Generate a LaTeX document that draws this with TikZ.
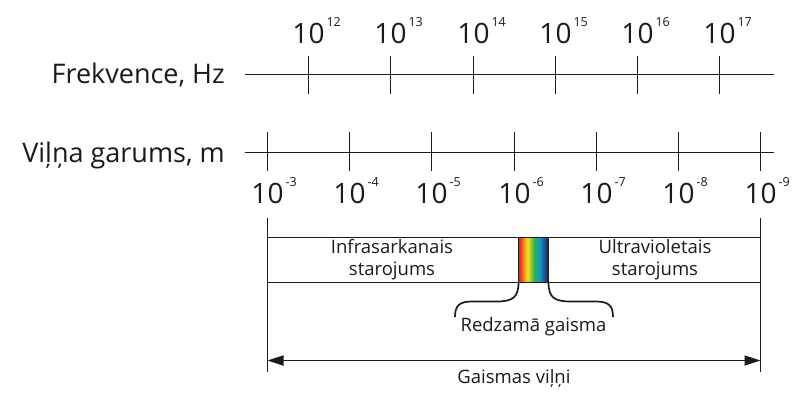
\documentclass[tikz,border=0pt]{standalone}
\usepackage{fontspec}
\setmainfont{Open Sans}
\usetikzlibrary{arrows.meta}
\definecolor{ink}{HTML}{1A1A1A}
\definecolor{spA}{HTML}{E41E26}
\definecolor{spB}{HTML}{EE4123}
\definecolor{spC}{HTML}{F5821F}
\definecolor{spD}{HTML}{F8C31A}
\definecolor{spE}{HTML}{E9E31E}
\definecolor{spF}{HTML}{8CC63F}
\definecolor{spG}{HTML}{3AB14A}
\definecolor{spH}{HTML}{1BA59A}
\definecolor{spI}{HTML}{1A90C8}
\definecolor{spJ}{HTML}{1C5E9A}
\definecolor{spK}{HTML}{1B2746}
\pgfdeclarehorizontalshading{spectrum}{100bp}{color(0bp)=(spA); color(25bp)=(spA); color(29bp)=(spB); color(33bp)=(spC); color(37bp)=(spD); color(41bp)=(spE); color(46bp)=(spF); color(51bp)=(spG); color(56bp)=(spH); color(61bp)=(spI); color(67bp)=(spJ); color(74bp)=(spK); color(100bp)=(spK)}
\newcommand{\tenexp}[1]{10\rlap{\hspace{2bp}\raisebox{17bp}{\fontsize{12.5bp}{13bp}\selectfont #1}}}
\tikzset{
  axisline/.style={draw=ink, line width=1.7bp},
  axislabel/.style={anchor=base east, inner sep=0pt, font=\fontsize{27bp}{32bp}\selectfont, text=ink},
  ticklabel/.style={anchor=base, inner sep=0pt, font=\fontsize{28bp}{32bp}\selectfont, text=ink},
  boxtext/.style={align=center, inner sep=0pt, font=\fontsize{18.5bp}{22bp}\selectfont, text=ink},
  plaintext/.style={anchor=base, inner sep=0pt, font=\fontsize{18.5bp}{22bp}\selectfont, text=ink}
}
\begin{document}
\begin{tikzpicture}[x=1bp, y=-1bp]
\useasboundingbox (0,0) rectangle (800,400);
% frequency axis
\node[axislabel] (flab) at (225,83) {Frekvence, Hz};
\coordinate (fa) at (245,74.5);
\coordinate (fb) at (774,74.5);
\draw[axisline] (fa) -- (fb);
\foreach \x/\e [count=\i] in {308.5/12,390.5/13,473.5/14,555.5/15,637.5/16,719.5/17}{
  \coordinate (ft\i a) at (\x,56);
  \coordinate (ft\i b) at (\x,94);
  \draw[axisline] (ft\i a) -- (ft\i b);
  \node[ticklabel] (fl\i) at (\x,43) {\tenexp{\e}};
}
% wavelength axis
\node[axislabel] (wlab) at (225,162) {Viļņa garums, m};
\coordinate (wa) at (245,152.5);
\coordinate (wb) at (774,152.5);
\draw[axisline] (wa) -- (wb);
\foreach \x/\e [count=\i] in {267.5/-3,349.5/-4,431.5/-5,514.5/-6,596.5/-7,678.5/-8,760.5/-9}{
  \coordinate (wt\i a) at (\x,132);
  \coordinate (wt\i b) at (\x,171);
  \draw[axisline] (wt\i a) -- (wt\i b);
  \node[ticklabel] (wl\i) at (\x,203) {\tenexp{\e}};
}
% vertical bounds
\coordinate (vl1) at (267.5,218);
\coordinate (vl2) at (267.5,372);
\coordinate (vr1) at (760.5,218);
\coordinate (vr2) at (760.5,372);
\draw[axisline] (vl1) -- (vl2);
\draw[axisline] (vr1) -- (vr2);
% band box
\coordinate (bx1) at (267.5,237.5);
\coordinate (bx2) at (760.5,282.5);
\draw[axisline] (bx1) rectangle (bx2);
\coordinate (sp1) at (518.5,237.5);
\coordinate (sp2) at (548.5,282.5);
\shade[shading=spectrum] (sp1) rectangle (sp2);
\draw[axisline] (sp1) rectangle (sp2);
\node[boxtext] (ir) at (392,260) {Infrasarkanais\\starojums};
\node[boxtext] (uv) at (655,260) {Ultravioletais\\starojums};
% brace
\coordinate (bl0) at (518.5,282.5);
\coordinate (bl1) at (455,317);
\coordinate (br0) at (548.5,282.5);
\coordinate (br1) at (613,317);
\draw[axisline] (bl0) .. controls (518.5,298) and (512,301.5) .. (496,301.5) -- (472,301.5) .. controls (459,301.5) and (455,306) .. (bl1);
\draw[axisline] (br0) .. controls (548.5,298) and (555,301.5) .. (571,301.5) -- (596,301.5) .. controls (609,301.5) and (613,306) .. (br1);
\node[plaintext] (vis) at (533.5,331) {Redzamā gaisma};
% light waves arrow
\coordinate (al) at (267.5,360.5);
\coordinate (ar) at (760.5,360.5);
\draw[axisline, {Triangle[length=16bp,width=10bp]}-{Triangle[length=16bp,width=10bp]}] (al) -- (ar);
\node[plaintext] (gw) at (514,383) {Gaismas viļņi};
\end{tikzpicture}
\end{document}
